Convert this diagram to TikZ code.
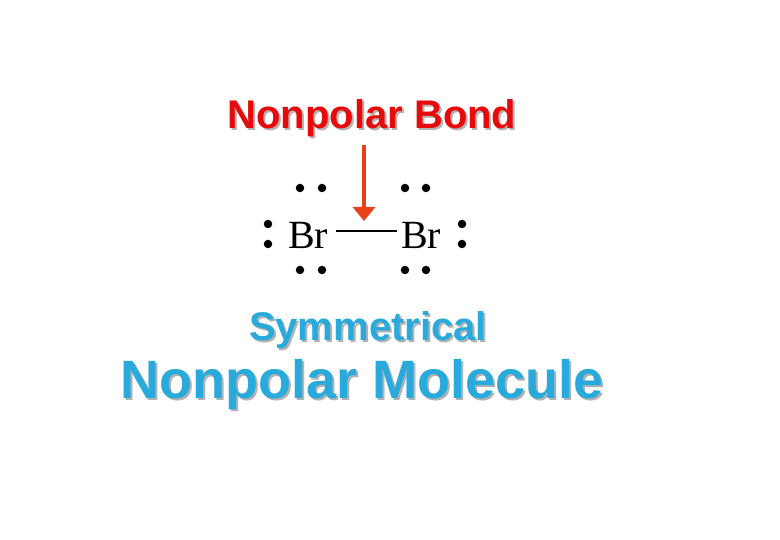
\documentclass[tikz,border=0pt]{standalone}
\usepackage{fontspec}
\setmainfont{Liberation Sans}
\newfontfamily\serifBr{Liberation Serif}
\usetikzlibrary{arrows.meta}
\definecolor{titlered}{RGB}{230,10,10}
\definecolor{arrowred}{RGB}{232,64,24}
\definecolor{skyblue}{RGB}{41,170,220}
\tikzset{
  dot/.style={circle,fill=black,inner sep=0pt,minimum size=8.5pt},
  atom/.style={font=\serifBr\fontsize{40}{44}\selectfont,inner sep=0pt},
  shadowtext/.style={font=\bfseries\fontsize{#1}{#1}\selectfont,inner sep=0pt}
}
\begin{document}
\begin{tikzpicture}[x=1pt,y=-1pt]
\useasboundingbox (0,0) rectangle (780,540);
\node[shadowtext=40,text=gray!60] at (374,120) {Nonpolar Bond};
\node[shadowtext=40,text=titlered] (t1) at (372,118) {Nonpolar Bond};
\node[atom] (b1) at (308,235) {Br};
\node[atom] (b2) at (421,235) {Br};
\draw[line width=2.2pt] ([xshift=8pt,yshift=4pt]b1.east) coordinate (l1) -- ([xshift=-4pt,yshift=4pt]b2.west) coordinate (l2);
\coordinate (as) at (364,145);
\coordinate (ae) at (364,221);
\draw[arrowred,line width=4pt,-{Triangle[length=14pt,width=22pt]}] (as) -- (ae);
\foreach \n/\x/\y in {d1/300/188,d2/322/188,d3/300/270,d4/322/270,d5/405/188,d6/426/188,d7/405/270,d8/426/270,d9/268/224,d10/268/244,d11/462/224,d12/462/244}
  \node[dot] (\n) at (\x,\y) {};
\node[shadowtext=40,text=gray!60] at (370,332) {Symmetrical};
\node[shadowtext=40,text=skyblue] (s) at (368,330) {Symmetrical};
\node[shadowtext=54,text=gray!60] at (364,387) {Nonpolar Molecule};
\node[shadowtext=54,text=skyblue] (m) at (362,385) {Nonpolar Molecule};
\end{tikzpicture}
\end{document}
